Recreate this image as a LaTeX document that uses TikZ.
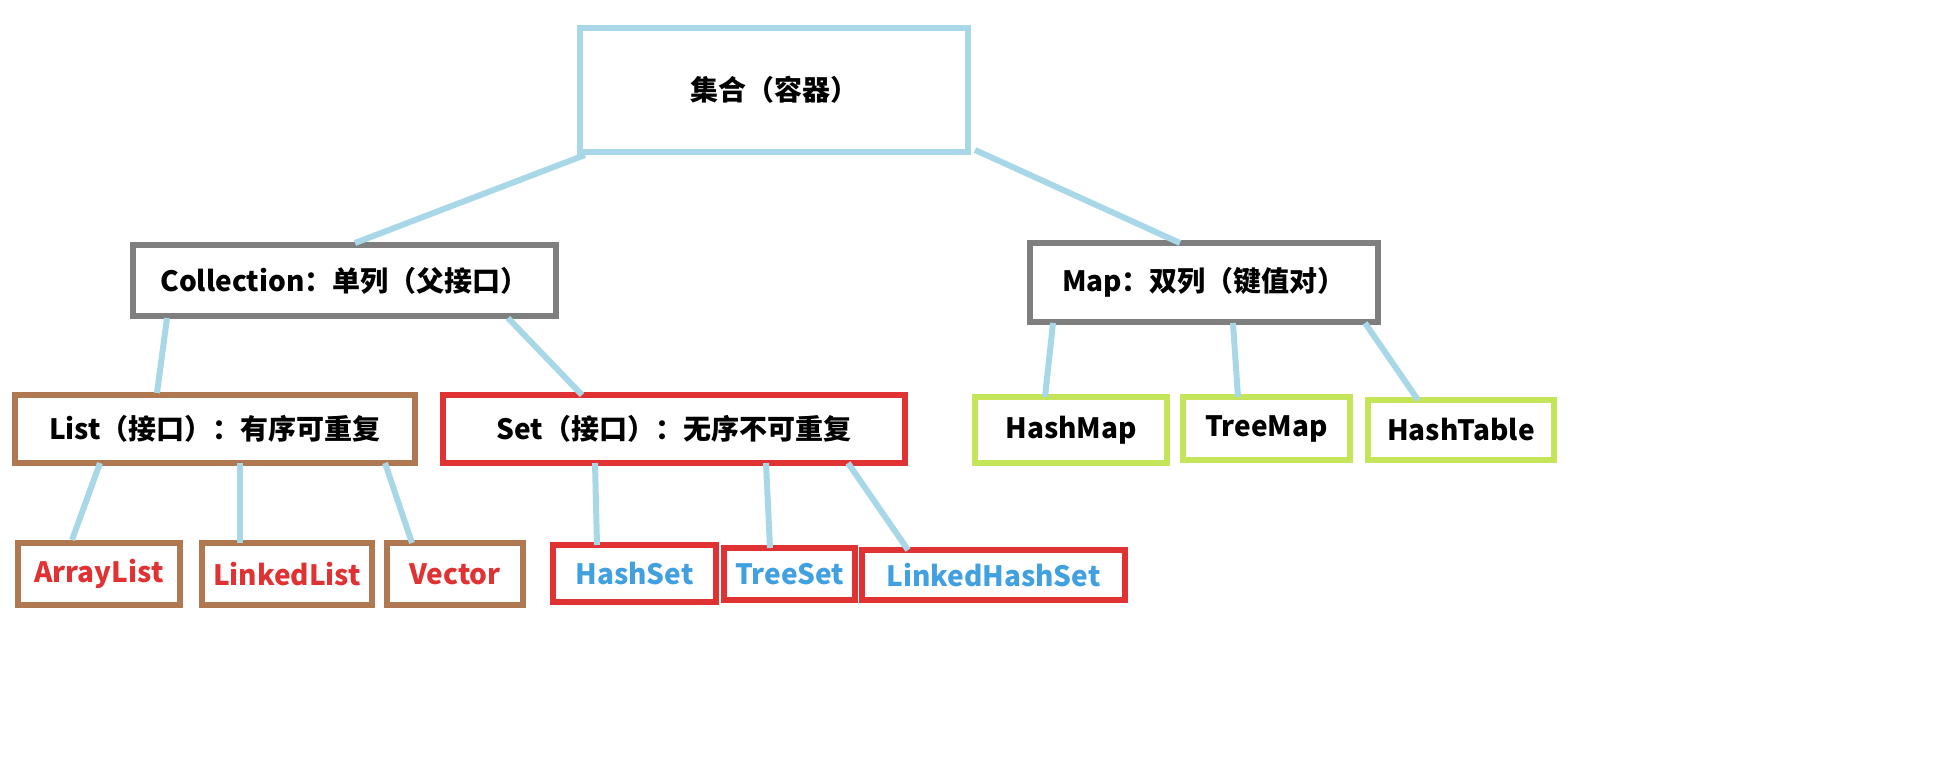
\documentclass[tikz,border=0pt]{standalone}
\usepackage{fontspec}
\setmainfont{Noto Sans CJK SC}
\definecolor{lb}{HTML}{A8D8E8}
\definecolor{gr}{HTML}{7F7F7F}
\definecolor{br}{HTML}{B07850}
\definecolor{rd}{HTML}{E03232}
\definecolor{gn}{HTML}{C4E45A}
\definecolor{bt}{HTML}{40A0E0}
\begin{document}
\begin{tikzpicture}[x=0.5pt,y=-0.5pt,
  bx/.style={draw,line width=3pt,inner sep=0pt,font=\bfseries\fontsize{14}{16}\selectfont},
  ln/.style={lb,line width=3pt}]
\useasboundingbox (0,0) rectangle (1954,758);
\newcommand\bxat[7]{\node[bx,#6,minimum width={(#4-#2)*0.5pt},minimum height={(#5-#3)*0.5pt}] (#1) at ({(#2+#4)/2},{(#3+#5)/2}) {#7};}
\bxat{top}{580}{28}{968}{152}{lb,text=black}{集合（容器）}
\bxat{col}{133}{245}{556}{316}{gr,text=black}{Collection：单列（父接口）}
\bxat{map}{1030}{243}{1378}{322}{gr,text=black}{Map：双列（键值对）}
\bxat{list}{15}{395}{415}{463}{br,text=black}{List（接口）：有序可重复}
\bxat{set}{443}{395}{905}{463}{rd,text=black}{Set（接口）：无序不可重复}
\bxat{hm}{975}{397}{1167}{463}{gn,text=black}{HashMap}
\bxat{tm}{1183}{397}{1350}{460}{gn,text=black}{TreeMap}
\bxat{ht}{1368}{400}{1554}{460}{gn,text=black}{HashTable}
\bxat{al}{18}{543}{180}{605}{br,text=rd}{ArrayList}
\bxat{ll}{202}{543}{372}{605}{br,text=rd}{LinkedList}
\bxat{vc}{387}{543}{523}{605}{br,text=rd}{Vector}
\bxat{hs}{553}{545}{716}{602}{rd,text=bt}{HashSet}
\bxat{ts}{724}{548}{855}{600}{rd,text=bt}{TreeSet}
\bxat{lhs}{862}{550}{1125}{600}{rd,text=bt}{LinkedHashSet}
\foreach \n/\a/\b/\c/\d in {1/585/155/355/243,2/975/150/1180/243,3/167/318/157/393,4/508/318/582/395,5/1053/323/1045/397,6/1233/323/1238/397,7/1365/323/1418/400,8/100/463/72/540,9/240/463/240/543,10/385/463/412/543,11/595/463/597/545,12/766/463/770/548,13/848/463/908/550}{
  \coordinate (s\n) at (\a,\b); \coordinate (e\n) at (\c,\d);
  \draw[ln] (s\n) -- (e\n);}
\end{tikzpicture}
\end{document}
